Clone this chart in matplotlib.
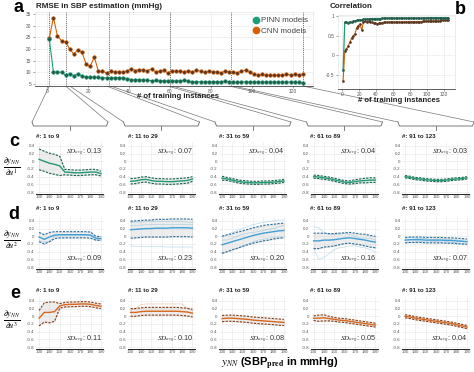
import numpy as np
import matplotlib
matplotlib.use('Agg')
import matplotlib.pyplot as plt
from matplotlib.patches import ConnectionPatch
from matplotlib.ticker import FuncFormatter
from matplotlib.lines import Line2D

plt.rcParams['font.family'] = ['Liberation Sans', 'DejaVu Sans']
plt.rcParams['mathtext.fontset'] = 'stix'
plt.rcParams['axes.unicode_minus'] = False

W, H = 474, 372
def fx(p): return p / W
def fy(p): return 1 - p / H

# ---------------- data ----------------
n_train = list(range(1, 126, 2))
rmse_cnn = [24.6, 33.6, 25.6, 23.6, 23.1, 19.9, 17.8, 19.7, 18.5, 13.5,
            12.5, 16.5, 10.4, 10.4, 9.7, 10.4, 10.0, 10.1, 10.1, 10.4,
            11.5, 10.7, 11.1, 10.8, 10.7, 11.4, 10.1, 10.4, 10.8, 9.7,
            10.7, 10.4, 10.4, 10.1, 10.7, 10.1, 10.8, 10.4, 10.0, 10.4,
            10.1, 10.2, 9.8, 10.4, 10.1, 10.1, 9.8, 10.5, 10.8, 10.2,
            9.0, 8.7, 9.0, 8.7, 8.8, 8.7, 8.6, 8.8, 9.0, 8.8,
            9.0, 8.8, 9.0]
rmse_pinn = [24.2, 10.1, 10.0, 10.0, 8.6, 9.4, 8.4, 9.4, 8.2, 8.0,
             7.8, 8.0, 7.7, 7.6, 7.5, 7.6, 7.5, 7.6, 7.4, 7.2,
             6.8, 6.8, 6.8, 6.7, 6.5, 6.3, 6.4, 6.2, 6.3, 6.1,
             6.2, 6.1, 6.3, 6.4, 6.0, 5.9, 5.9, 5.8, 5.8, 5.8,
             5.9, 5.8, 5.9, 6.0, 5.8, 5.6, 5.6, 5.7, 5.8, 5.6,
             5.9, 5.6, 5.6, 5.7, 5.6, 5.7, 5.6, 5.6, 5.6, 5.7,
             5.6, 5.6, 5.4]
corr_pinn = [-0.38, 0.84, 0.85, 0.83, 0.86, 0.85, 0.87, 0.88, 0.89, 0.90,
             0.91, 0.91, 0.92, 0.92, 0.93, 0.93, 0.93, 0.94, 0.94, 0.94,
             0.94, 0.94, 0.94, 0.95, 0.95, 0.95, 0.95, 0.95, 0.95, 0.95,
             0.95, 0.95, 0.95, 0.95, 0.95, 0.95, 0.95, 0.95, 0.95, 0.95,
             0.95, 0.95, 0.95, 0.95, 0.95, 0.95, 0.95, 0.95, 0.95, 0.95,
             0.96, 0.96, 0.96, 0.96, 0.96, 0.96, 0.96, 0.96, 0.96, 0.96,
             0.96, 0.96, 0.96]
corr_cnn = [-0.66, 0.12, 0.16, 0.24, 0.33, 0.44, 0.50, 0.55, 0.70, 0.76,
            0.80, 0.64, 0.85, 0.87, 0.86, 0.87, 0.86, 0.84, 0.82, 0.83,
            0.80, 0.82, 0.83, 0.83, 0.84, 0.84, 0.85, 0.84, 0.85, 0.85,
            0.84, 0.85, 0.85, 0.85, 0.84, 0.85, 0.85, 0.86, 0.85, 0.85,
            0.86, 0.86, 0.85, 0.86, 0.86, 0.86, 0.86, 0.87, 0.88, 0.87,
            0.88, 0.88, 0.88, 0.87, 0.88, 0.88, 0.88, 0.88, 0.89, 0.89,
            0.89, 0.89, 0.89]
region_edges = [1, 9, 30, 60, 90, 125]

group_labels = ['#: 1 to 9', '#: 11 to 29', '#: 31 to 59', '#: 61 to 89', '#: 91 to 123']
group_start = [1, 11, 31, 61, 91]
group_end = [9, 29, 59, 89, 125]

x_sbp = [130, 135, 140, 145, 150, 155, 160, 165, 170, 175, 180, 185, 190]

du1_mean = [[0.05, 0.00, -0.05, -0.08, -0.12, -0.28, -0.29, -0.30, -0.30, -0.29, -0.28, -0.28, -0.32],
            [-0.52, -0.51, -0.48, -0.47, -0.50, -0.52, -0.52, -0.53, -0.53, -0.52, -0.51, -0.50, -0.46],
            [-0.44, -0.46, -0.49, -0.52, -0.54, -0.55, -0.56, -0.56, -0.55, -0.55, -0.54, -0.53, -0.51],
            [-0.40, -0.41, -0.43, -0.45, -0.48, -0.51, -0.54, -0.55, -0.53, -0.51, -0.50, -0.49, -0.49],
            [-0.40, -0.42, -0.45, -0.46, -0.48, -0.49, -0.50, -0.50, -0.49, -0.47, -0.46, -0.45, -0.43]]
du1_sd = [[0.27, 0.26, 0.26, 0.26, 0.25, 0.07, 0.07, 0.07, 0.07, 0.07, 0.07, 0.07, 0.06],
          [0.07, 0.07, 0.07, 0.07, 0.07, 0.07, 0.07, 0.07, 0.07, 0.07, 0.07, 0.07, 0.06],
          [0.05, 0.04, 0.04, 0.04, 0.04, 0.04, 0.04, 0.04, 0.04, 0.04, 0.04, 0.04, 0.04],
          [0.04, 0.04, 0.04, 0.04, 0.04, 0.04, 0.04, 0.04, 0.05, 0.05, 0.06, 0.06, 0.06],
          [0.03, 0.03, 0.03, 0.03, 0.03, 0.03, 0.03, 0.03, 0.03, 0.03, 0.03, 0.03, 0.03]]
du1_extra = [[], [], [], [], []]
du1_sdavg = [0.13, 0.07, 0.04, 0.04, 0.03]

du2_mean = [[-0.02, -0.08, -0.02, 0.03, 0.04, 0.04, 0.04, 0.04, 0.04, 0.04, 0.03, -0.05, -0.06],
            [0.17, 0.18, 0.19, 0.20, 0.20, 0.21, 0.21, 0.21, 0.22, 0.22, 0.22, 0.22, 0.21],
            [-0.22, -0.18, -0.14, -0.10, -0.06, -0.02, 0.02, 0.05, 0.08, 0.10, 0.12, 0.14, 0.15],
            [-0.12, -0.12, -0.10, -0.10, -0.09, -0.07, -0.05, -0.04, -0.06, -0.08, -0.10, -0.13, -0.15],
            [-0.10, -0.09, -0.09, -0.09, -0.10, -0.10, -0.10, -0.10, -0.11, -0.11, -0.12, -0.13, -0.14]]
du2_sd = [[0.12, 0.12, 0.12, 0.09, 0.08, 0.08, 0.08, 0.08, 0.08, 0.08, 0.08, 0.05, 0.05],
          [0.22, 0.22, 0.22, 0.22, 0.22, 0.23, 0.23, 0.23, 0.23, 0.23, 0.23, 0.23, 0.23],
          [0.22, 0.22, 0.21, 0.21, 0.20, 0.20, 0.20, 0.20, 0.20, 0.20, 0.19, 0.19, 0.19],
          [0.20, 0.20, 0.18, 0.17, 0.16, 0.15, 0.14, 0.14, 0.14, 0.14, 0.15, 0.15, 0.15],
          [0.07, 0.07, 0.07, 0.07, 0.07, 0.07, 0.07, 0.07, 0.07, 0.07, 0.07, 0.07, 0.07]]
du2_extra = [[[-0.12, -0.15, -0.14, 0.00, 0.02, 0.03, 0.03, 0.03, 0.03, 0.03, 0.02, -0.08, -0.10]],
             [[0.36, 0.37, 0.37, 0.38, 0.38, 0.38, 0.38, 0.38, 0.39, 0.39, 0.38, 0.37, 0.36],
              [0.28, 0.28, 0.29, 0.30, 0.30, 0.31, 0.31, 0.31, 0.31, 0.31, 0.31, 0.30, 0.30],
              [-0.25, -0.26, -0.26, -0.27, -0.27, -0.27, -0.27, -0.28, -0.28, -0.28, -0.28, -0.28, -0.28]],
             [[0.00, 0.05, 0.10, 0.15, 0.20, 0.25, 0.30, 0.33, 0.36, 0.38, 0.40, 0.42, 0.42],
              [-0.45, -0.40, -0.35, -0.30, -0.25, -0.20, -0.15, -0.10, -0.08, -0.05, -0.03, -0.02, -0.02],
              [-0.10, -0.10, -0.05, 0.00, 0.05, 0.08, 0.10, 0.12, 0.15, 0.18, 0.20, 0.25, 0.28]],
             [[0.25, 0.22, 0.10, 0.05, 0.05, 0.05, 0.08, 0.05, 0.00, -0.05, -0.05, -0.05, -0.10],
              [-0.30, -0.60, -0.55, -0.45, -0.35, -0.30, -0.28, -0.25, -0.25, -0.28, -0.30, -0.35, -0.40]],
             [[-0.05, -0.03, -0.05, -0.06, -0.06, -0.08, -0.08, -0.07, -0.08, -0.09, -0.10, -0.12, -0.15],
              [-0.16, -0.17, -0.15, -0.14, -0.15, -0.14, -0.14, -0.15, -0.15, -0.16, -0.17, -0.18, -0.20]]]
du2_sdavg = [0.09, 0.23, 0.20, 0.16, 0.07]

du3_mean = [[-0.05, 0.10, 0.10, 0.12, 0.27, 0.30, 0.31, 0.31, 0.32, 0.32, 0.31, 0.28, 0.26],
            [0.10, 0.10, 0.12, 0.13, 0.13, 0.13, 0.13, 0.13, 0.13, 0.13, 0.12, 0.11, 0.08],
            [-0.06, -0.05, -0.05, -0.06, -0.07, -0.08, -0.10, -0.11, -0.12, -0.13, -0.14, -0.15, -0.16],
            [-0.05, -0.05, -0.04, -0.06, -0.08, -0.10, -0.11, -0.13, -0.15, -0.17, -0.19, -0.21, -0.23],
            [0.00, -0.02, -0.05, -0.07, -0.09, -0.11, -0.13, -0.15, -0.17, -0.19, -0.22, -0.25, -0.28]]
du3_sd = [[0.20, 0.25, 0.27, 0.25, 0.06, 0.06, 0.06, 0.06, 0.06, 0.06, 0.06, 0.06, 0.06],
          [0.10, 0.10, 0.10, 0.10, 0.10, 0.10, 0.10, 0.10, 0.10, 0.10, 0.10, 0.10, 0.10],
          [0.08, 0.08, 0.08, 0.08, 0.08, 0.08, 0.08, 0.08, 0.08, 0.08, 0.08, 0.08, 0.08],
          [0.06, 0.08, 0.08, 0.06, 0.05, 0.05, 0.05, 0.05, 0.05, 0.05, 0.05, 0.05, 0.05],
          [0.04, 0.04, 0.04, 0.04, 0.04, 0.04, 0.04, 0.04, 0.04, 0.04, 0.04, 0.04, 0.04]]
du3_extra = [[],
             [[0.15, 0.22, 0.30, 0.32, 0.32, 0.32, 0.32, 0.32, 0.32, 0.32, 0.32, 0.20, 0.15]],
             [], [], []]
du3_sdavg = [0.11, 0.10, 0.08, 0.05, 0.04]

# ---------------- style ----------------
PINN_C, PINN_D = '#1b9e77', '#245c49'
CNN_C, CNN_D = '#d95f02', '#5a3624'
row_cols = [('#1f9a74', '#14634b'), ('#3f9fd6', '#2a6f9e'), ('#d9661a', '#8a3a10')]

fig = plt.figure(figsize=(4.74, 3.72), dpi=100)

# overlay for connectors / brackets
ax_o = fig.add_axes([0, 0, 1, 1], zorder=0)
ax_o.set_xlim(0, W); ax_o.set_ylim(H, 0); ax_o.axis('off')
ax_o.patch.set_alpha(0)

def style_top(ax):
    ax.grid(True, color='#e6e6e6', lw=0.4)
    ax.set_axisbelow(True)
    for s in ['top', 'right', 'left']:
        ax.spines[s].set_color('#dddddd'); ax.spines[s].set_linewidth(0.4)
    ax.spines['bottom'].set_color('#444444'); ax.spines['bottom'].set_linewidth(0.6)
    ax.tick_params(labelsize=3.5, colors='#555555', length=1.5, width=0.4, pad=1)

# ---- panel a ----
ax_a = fig.add_axes([fx(35), fy(86), fx(313) - fx(35), fy(12) - fy(86)], zorder=2)
ax_a.plot(n_train, rmse_cnn, color=CNN_C, lw=0.8, marker='o', ms=2.6,
          mfc=CNN_D, mec=CNN_C, mew=0.4, zorder=3)
ax_a.plot(n_train, rmse_pinn, color=PINN_C, lw=0.8, marker='o', ms=2.6,
          mfc=PINN_D, mec=PINN_C, mew=0.4, zorder=4)
for e in region_edges:
    ax_a.axvline(e, color='#333333', lw=0.5, ls=(0, (1.5, 1.5)), zorder=2)
ax_a.set_xlim(-6, 130); ax_a.set_ylim(4, 36)
ax_a.set_xticks([0, 20, 40, 60, 80, 100, 120])
ax_a.set_yticks([5, 10, 15, 20, 25, 30, 35])
style_top(ax_a)
h = [Line2D([], [], ls='', marker='o', ms=4.5, color=PINN_C),
     Line2D([], [], ls='', marker='o', ms=4.5, color=CNN_C)]
ax_a.legend(h, ['PINN models', 'CNN models'], loc='upper right', frameon=False,
            fontsize=5.8, labelcolor='#444444', handletextpad=0.1, borderaxespad=0.2,
            labelspacing=0.35, handlelength=1.0)

# ---- panel b ----
ax_b = fig.add_axes([fx(338), fy(89), fx(455) - fx(338), fy(15) - fy(89)], zorder=2)
ax_b.plot(n_train, corr_cnn, color=CNN_C, lw=0.8, marker='o', ms=0.9, mfc=CNN_D, mec=CNN_D)
ax_b.plot(n_train, corr_pinn, color=PINN_C, lw=0.9, marker='o', ms=0.9, mfc=PINN_D, mec=PINN_D)
ax_b.set_xlim(-5, 133); ax_b.set_ylim(-0.86, 1.03)
ax_b.set_xticks([0, 20, 40, 60, 80, 100, 120])
ax_b.set_yticks([-0.5, 0, 0.5, 1])
ax_b.yaxis.set_major_formatter(FuncFormatter(lambda v, p: '0' if abs(v) < 1e-9 else ('1' if abs(v - 1) < 1e-9 else f'{v:g}')))
style_top(ax_b)

# titles / labels
fig.text(fx(36), fy(7), 'RMSE in SBP estimation (mmHg)', fontsize=5.8, fontweight='bold', va='center', color='#222222')
fig.text(fx(330), fy(7), 'Correlation', fontsize=5.8, fontweight='bold', va='center', color='#222222')
fig.text(fx(178), fy(97), '# of training instances', fontsize=5.6, fontweight='bold', ha='center', va='center', color='#222222')
fig.text(fx(399), fy(100), '# of training instances', fontsize=5.6, fontweight='bold', ha='center', va='center', color='#222222')
for lab, (px, py) in zip('abcde', [(19, 8), (460, 9), (14, 142), (14, 214), (15, 294)]):
    fig.text(fx(px), fy(py), lab, fontsize=13, fontweight='bold', ha='center', va='center')

# ---- small panels ----
lefts = [36 + 91.5 * i for i in range(5)]
pw, ph = 68, 52
tops = [142, 217, 297]
title_off = [5, 9, 7]
means = [du1_mean, du2_mean, du3_mean]
sds = [du1_sd, du2_sd, du3_sd]
extras = [du1_extra, du2_extra, du3_extra]
sdavgs = [du1_sdavg, du2_sdavg, du3_sdavg]
sd_pos = [0.80, 0.19, 0.19]
ylab_y = [167, 240, 320]
ylabels = [r'$\frac{\partial y_{NN}}{\partial u^{1}}$',
           r'$\frac{\partial y_{NN}}{\partial u^{2}}$',
           r'$\frac{\partial y_{NN}}{\partial u^{3}}$']
fmt = FuncFormatter(lambda v, p: '0' if abs(v) < 1e-9 else f'{v:.1f}')

for r in range(3):
    col, dcol = row_cols[r]
    fig.text(fx(12), fy(ylab_y[r]), ylabels[r], fontsize=8.5, ha='center', va='center')
    for i in range(5):
        ax = fig.add_axes([fx(lefts[i]), fy(tops[r] + ph), fx(pw), ph / H], zorder=2)
        m = np.array(means[r][i]); s = np.array(sds[r][i])
        ax.fill_between(x_sbp, m - s, m + s, facecolor='#d4d4d4', alpha=0.4,
                        edgecolor='#b0b0b0', lw=0.4)
        for e in extras[r][i]:
            ax.plot(x_sbp, e, color=col, alpha=0.35, lw=0.5)
        ax.plot(x_sbp, m + s, color=dcol, lw=0.8, ls=(0, (2, 1.2)))
        ax.plot(x_sbp, m - s, color=dcol, lw=0.8, ls=(0, (2, 1.2)))
        ax.plot(x_sbp, m, color=col, lw=1.0)
        ax.set_xlim(127, 193); ax.set_ylim(-0.85, 0.5)
        ax.set_xticks([130, 140, 150, 160, 170, 180, 190])
        ax.set_yticks([-0.8, -0.6, -0.4, -0.2, 0, 0.2, 0.4])
        ax.yaxis.set_major_formatter(fmt)
        ax.grid(True, color='#e6e6e6', lw=0.4)
        ax.set_axisbelow(True)
        for sname in ['top', 'right', 'left']:
            ax.spines[sname].set_visible(False)
        ax.spines['bottom'].set_linestyle((0, (1, 1)))
        ax.spines['bottom'].set_linewidth(0.7)
        ax.spines['bottom'].set_color('#222222')
        ax.tick_params(labelsize=3.2, colors='#555555', length=0, pad=1)
        ax.text(0.0, 1 + title_off[r] / ph, group_labels[i], transform=ax.transAxes,
                fontsize=4.4, fontweight='bold', ha='left', va='center', color='#222222')
        ax.text(0.97, sd_pos[r], r'$SD_{avg}$: ' + f'{sdavgs[r][i]:.2f}', transform=ax.transAxes,
                fontsize=5.2, ha='right', va='center', color='#333333')

# bottom x label
fig.text(fx(280), fy(364), r'$y_{NN}$ (SBP$_{\mathbf{pred}}$ in mmHg)', fontsize=8,
         fontweight='bold', ha='center', va='center')

# brackets and connectors
for i in range(5):
    xc = lefts[i] + pw / 2
    x0, x1 = xc - 38, xc + 38
    ax_o.plot([x0, x0 + 1.5, x1 - 1.5, x1], [122, 126, 126, 122], color='#666666', lw=0.6)
    ax_o.plot([xc, xc], [126, 130], color='#666666', lw=0.6)
    for xa, xb in [(group_start[i], x0), (group_end[i], x1)]:
        con = ConnectionPatch(xyA=(xa, 4), coordsA=ax_a.transData,
                              xyB=(xb, 122), coordsB=ax_o.transData,
                              color='#777777', lw=0.5)
        ax_o.add_artist(con)

fig.savefig('out.png', dpi=100)
